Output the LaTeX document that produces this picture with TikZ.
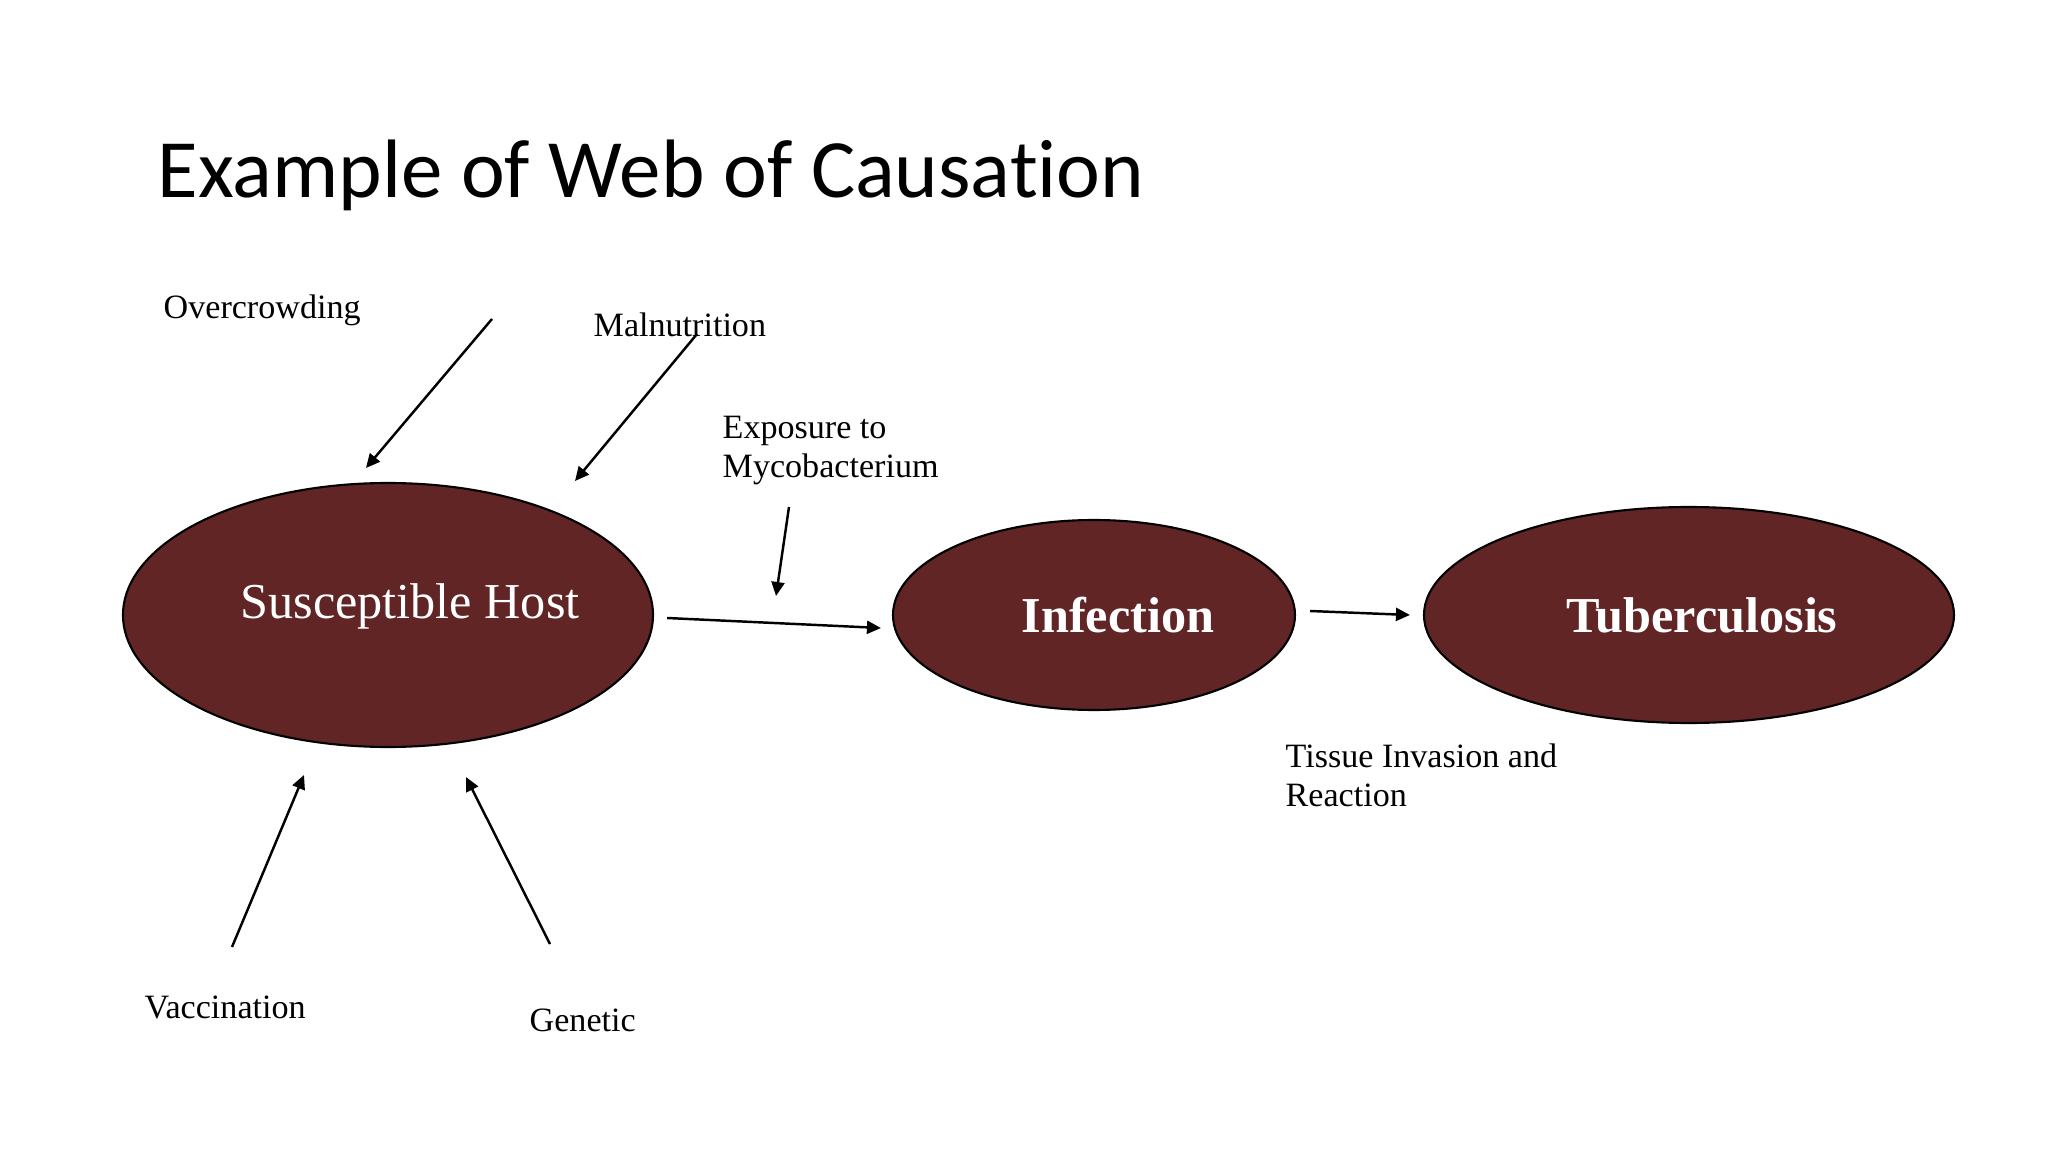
\documentclass[tikz,border=0pt]{standalone}
\usepackage{fontspec}
\setmainfont{Liberation Serif}
\newfontfamily\titlefont[Ligatures={NoCommon}]{Carlito}
\usetikzlibrary{shapes.geometric, arrows.meta}
\definecolor{maroon}{HTML}{622526}

\begin{document}
\begin{tikzpicture}[
  blob/.style={ellipse, draw=black, line width=0.6pt, fill=maroon, inner sep=0pt},
  blobtext/.style={text=white, inner sep=0pt, font=\fontsize{14.3}{17}\selectfont},
  cause/.style={font=\fontsize{9.7}{11.1}\selectfont, align=left, inner sep=0pt, anchor=west},
  conn/.style={-{Triangle[length=1.4mm, width=1.3mm]}, line width=0.7pt}
]
  \useasboundingbox (0,0) rectangle (20.48,-11.52);

  % Title
  \node[anchor=base west, inner sep=0pt, font=\titlefont\fontsize{23.6}{29}\selectfont] (title) at (1.57,-1.98) {Example of Web of Causation};

  % Stages
  \node[blob, minimum width=5.3cm, minimum height=2.64cm,
        label={[blobtext, xshift=0.22cm, yshift=0.09cm]center:Susceptible Host}] (host) at (3.88,-6.15) {};
  \node[blob, minimum width=4.02cm, minimum height=1.9cm,
        label={[blobtext, font=\fontsize{14.3}{17}\selectfont\bfseries, xshift=0.24cm]center:Infection}] (inf) at (10.94,-6.15) {};
  \node[blob, minimum width=5.3cm, minimum height=2.16cm,
        label={[blobtext, font=\fontsize{14.3}{17}\selectfont\bfseries, xshift=0.13cm]center:Tuberculosis}] (tb) at (16.89,-6.15) {};

  % Causes
  \node[cause] (crowd) at (1.63,-3.10) {Overcrowding};
  \node[cause] (malnut) at (5.93,-3.25) {Malnutrition};
  \node[cause] (expo) at (7.22,-4.51) {Exposure to\\Mycobacterium};
  \node[cause] (tissue) at (12.85,-7.75) {Tissue Invasion and\\Reaction};
  \node[cause] (vacc) at (1.44,-10.07) {Vaccination};
  \node[cause] (gene) at (5.29,-10.20) {Genetic};

  % Arrow ends
  \coordinate (crowdA) at (4.92,-3.19);
  \coordinate (crowdB) at (3.66,-4.68);
  \coordinate (malnutA) at (6.97,-3.34);
  \coordinate (malnutB) at (5.75,-4.81);
  \coordinate (expoA) at (7.89,-5.07);
  \coordinate (expoB) at (7.76,-5.96);
  \coordinate (vaccA) at (2.32,-9.47);
  \coordinate (vaccB) at (3.04,-7.75);
  \coordinate (geneA) at (5.50,-9.44);
  \coordinate (geneB) at (4.66,-7.77);

  \draw[conn] (crowdA) -- (crowdB);
  \draw[conn] (malnutA) -- (malnutB);
  \draw[conn] (expoA) -- (expoB);
  \draw[conn] (vaccA) -- (vaccB);
  \draw[conn] (geneA) -- (geneB);
  \draw[conn] ([shift={(0.13,-0.03)}]host.east) -- ([shift={(-0.11,-0.13)}]inf.west);
  \draw[conn] ([shift={(0.14,0.04)}]inf.east) -- ([shift={(-0.13,0)}]tb.west);
\end{tikzpicture}
\end{document}
